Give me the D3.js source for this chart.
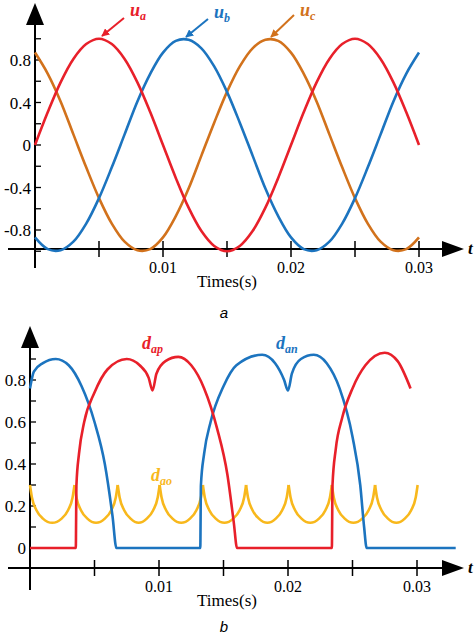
<!DOCTYPE html>
<html><head><meta charset="utf-8">
<script src="https://cdn.jsdelivr.net/npm/d3@7"></script>
<style>body{margin:0;background:#fff}svg{display:block}</style>
</head><body>
<svg id="main" width="474" height="637"></svg>
<script>
// time in ms
const uT  = d3.range(0, 31);
const ua  = [0,.31,.59,.81,.95,1,.95,.81,.59,.31,0,-.31,-.59,-.81,-.95,-1,-.95,-.81,-.59,-.31,0,.31,.59,.81,.95,1,.95,.81,.59,.31,0];
const ub  = [-.87,-.98,-.99,-.91,-.74,-.5,-.21,.10,.41,.67,.87,.98,.99,.91,.74,.5,.21,-.10,-.41,-.67,-.87,-.98,-.99,-.91,-.74,-.5,-.21,.10,.41,.67,.87];
const uc  = [.87,.67,.41,.10,-.21,-.5,-.74,-.91,-.99,-.98,-.87,-.67,-.41,-.10,.21,.5,.74,.91,.99,.98,.87,.67,.41,.10,-.21,-.5,-.74,-.91,-.99,-.98,-.87];

const dap = [[0,0],[3.55,0],[3.6,.3],[3.8,.45],[4.2,.6],[5,.74],[6,.85],[7.5,.9],[8.5,.87],[9.2,.81],[9.5,.75],
  [9.8,.83],[10.5,.89],[11.5,.91],[12.5,.87],[13.5,.76],[14.5,.57],[15.3,.35],[15.8,.12],[16.05,0],[23.4,0],
  [23.45,.3],[23.7,.47],[24.2,.62],[25,.76],[26,.87],[27.5,.93],[28.5,.89],[29.5,.76]];
const dan = [[0,.76],[.3,.84],[1,.88],[2,.9],[3,.87],[4,.77],[5,.6],[5.8,.4],[6.4,.15],[6.7,0],[13.2,0],
  [13.25,.3],[13.5,.45],[14,.6],[15,.77],[16,.87],[18,.92],[19,.88],[19.7,.8],[20,.75],[20.3,.83],[21,.9],
  [22,.92],[23,.88],[24,.76],[25,.53],[25.6,.3],[25.9,.1],[26.1,0],[33,0]];
const daoT = [
  [0,.15,.5,1,1.72,2.45,2.95,3.3,3.45],
  [3.45,3.6,3.95,4.45,5.12,5.8,6.3,6.65,6.8],
  [6.8,6.95,7.3,7.8,8.42,9.05,9.55,9.9,10.05],
  [10.05,10.2,10.55,11.05,11.72,12.4,12.9,13.25,13.4],
  [13.4,13.55,13.9,14.4,15.07,15.75,16.25,16.6,16.75],
  [16.75,16.9,17.25,17.75,18.4,19.05,19.55,19.9,20.05],
  [20.05,20.2,20.55,21.05,21.72,22.4,22.9,23.25,23.4],
  [23.4,23.55,23.9,24.4,25.07,25.75,26.25,26.6,26.75],
  [26.75,26.9,27.25,27.75,28.4,29.05,29.55,29.9,30.05]];
const daoV = [.3,.24,.18,.14,.12,.14,.18,.24,.3];

const xTicks = [0.01, 0.02, 0.03];
const yTicksA = [0.8, 0.4, 0, -0.4, -0.8];
const yTicksB = [0.8, 0.6, 0.4, 0.2, 0];

const RED = '#e8202a', BLUE = '#1c74bf', ORANGE = '#d2721c', YEL = '#f8b81c';
const svg = d3.select('#main');
const serif = "'Liberation Serif', 'Times New Roman', 'DejaVu Serif', serif";

svg.append('defs').append('marker').attr('id','ah').attr('viewBox','0 0 10 10')
  .attr('refX',9).attr('refY',5).attr('markerWidth',4).attr('markerHeight',4).attr('orient','auto')
  .append('path').attr('d','M0,0L10,5L0,10z').attr('fill','context-stroke');

function frame(g, o) {
  const {x, y, axisY, yTop, yBot, xEnd, ticks, minor, caption, capY} = o;
  g.append('line').attr('x1', x(0)).attr('x2', x(0)).attr('y1', yTop + 12).attr('y2', yBot).attr('stroke', '#000').attr('stroke-width', 2);
  g.append('path').attr('d', `M${x(0)-9},${yTop+22}L${x(0)},${yTop}L${x(0)+9},${yTop+22}z`);
  g.append('line').attr('x1', 8).attr('x2', xEnd - 12).attr('y1', axisY).attr('y2', axisY).attr('stroke', '#000').attr('stroke-width', 2);
  g.append('path').attr('d', `M${xEnd-22},${axisY-8}L${xEnd},${axisY}L${xEnd-22},${axisY+8}z`);
  g.append('text').attr('x', xEnd + 4).attr('y', axisY + 5).attr('font-family', serif).attr('font-style', 'italic')
    .attr('font-weight', 'bold').attr('font-size', 17).text('t');
  d3.range(0.005, 0.031, 0.005).forEach(v => {
    g.append('line').attr('x1', x(v)).attr('x2', x(v)).attr('y1', axisY - 8).attr('y2', axisY + 8).attr('stroke', '#000').attr('stroke-width', 1.5);
  });
  xTicks.forEach(v => g.append('text').attr('x', x(v)).attr('y', axisY + 24).attr('text-anchor', 'middle')
    .attr('font-family', serif).attr('font-size', 16).text(v));
  minor.forEach(v => g.append('line').attr('x1', x(0)).attr('x2', x(0) + 6).attr('y1', y(v)).attr('y2', y(v)).attr('stroke', '#000').attr('stroke-width', 1.3));
  ticks.forEach(v => g.append('text').attr('x', x(0) - 4).attr('y', y(v) + 6).attr('text-anchor', 'end')
    .attr('font-family', serif).attr('font-size', 17).text(v));
  g.append('text').attr('x', 227).attr('y', axisY + 38).attr('text-anchor', 'middle').attr('font-family', serif).attr('font-size', 17).text('Times(s)');
  g.append('text').attr('x', 224).attr('y', capY).attr('text-anchor', 'middle').attr('font-family', "'Liberation Sans', Arial, sans-serif")
    .attr('font-style', 'italic').attr('font-size', 15).text(caption);
}

function label(g, x, y, main, sub, color) {
  const t = g.append('text').attr('x', x).attr('y', y).attr('fill', color).attr('font-family', serif)
    .attr('font-style', 'italic').attr('font-weight', 'bold').attr('font-size', 18).text(main);
  t.append('tspan').attr('font-size', 12).attr('dy', 4).text(sub);
}

// ---- chart a
const xa = d3.scaleLinear().domain([0, 0.01]).range([35, 163]);
const ya = d3.scaleLinear().domain([0, 0.8]).range([145, 60]);
const ga = svg.append('g');
frame(ga, {x: xa, y: ya, axisY: 249, yTop: 3, yBot: 268, xEnd: 464, ticks: yTicksA,
  minor: d3.range(-1, 1.01, 0.2).map(v => Math.round(v * 10) / 10), caption: 'a', capY: 318});
const lineA = d3.line().x((d, i) => xa(uT[i] / 1000)).y(d => ya(d)).curve(d3.curveCatmullRom);
[[uc, ORANGE], [ub, BLUE], [ua, RED]].forEach(([s, c]) =>
  ga.append('path').attr('d', lineA(s)).attr('fill', 'none').attr('stroke', c).attr('stroke-width', 2.6));
[[130, 16, 'u', 'a', RED, 124, 18, 102, 36], [214, 18, 'u', 'b', BLUE, 208, 19, 186, 37], [300, 16, 'u', 'c', ORANGE, 294, 15, 271, 37]]
  .forEach(([lx, ly, m, s, c, x1, y1, x2, y2]) => {
    label(ga, lx, ly, m, s, c);
    ga.append('line').attr('x1', x1).attr('y1', y1).attr('x2', x2).attr('y2', y2).attr('stroke', c).attr('stroke-width', 2)
      .attr('marker-end', 'url(#ah)');
  });

// ---- chart b
const xb = d3.scaleLinear().domain([0, 0.01]).range([30, 159]);
const yb = d3.scaleLinear().domain([0, 0.8]).range([548, 380]);
const gb = svg.append('g');
frame(gb, {x: xb, y: yb, axisY: 568, yTop: 326, yBot: 590, xEnd: 464, ticks: yTicksB,
  minor: d3.range(0, 0.95, 0.1).map(v => Math.round(v * 10) / 10), caption: 'b', capY: 632});
const lineB = d3.line().x(d => xb(d[0] / 1000)).y(d => yb(d[1])).curve(d3.curveMonotoneX);
daoT.forEach(seg => gb.append('path').attr('d', lineB(seg.map((t, i) => [t, daoV[i]])))
  .attr('fill', 'none').attr('stroke', YEL).attr('stroke-width', 2.6));
gb.append('path').attr('d', lineB(dan)).attr('fill', 'none').attr('stroke', BLUE).attr('stroke-width', 2.6);
gb.append('path').attr('d', lineB(dap)).attr('fill', 'none').attr('stroke', RED).attr('stroke-width', 2.6);
label(gb, 142, 349, 'd', 'ap', RED);
label(gb, 276, 349, 'd', 'an', BLUE);
label(gb, 151, 481, 'd', 'ao', YEL);
</script>
</body></html>
